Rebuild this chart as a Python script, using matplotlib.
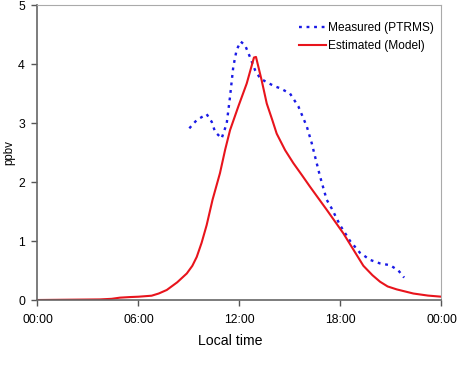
import matplotlib
matplotlib.use("Agg")
import matplotlib.pyplot as plt

plt.rcParams['font.family'] = ['Liberation Sans', 'DejaVu Sans']

# Estimated (Model)
est_h = [0, 3.71, 4.4, 4.9, 5.5, 6.0, 6.78, 7.2, 7.68, 8.3, 8.87, 9.2, 9.46, 9.75, 10.05,
         10.4, 10.84, 11.15, 11.44, 11.93, 12.43, 12.86, 12.98, 13.32, 13.62, 13.95,
         14.21, 14.71, 15.2, 15.7, 16.19, 17.18, 18.17, 18.97, 19.36, 19.9, 20.35,
         20.8, 21.34, 22.33, 23.2, 24.0]
est_v = [0, 0.01, 0.02, 0.04, 0.05, 0.056, 0.073, 0.11, 0.17, 0.3, 0.45, 0.58, 0.73, 0.97, 1.27,
         1.7, 2.15, 2.55, 2.88, 3.28, 3.67, 4.11, 4.12, 3.72, 3.33, 3.05,
         2.82, 2.54, 2.32, 2.12, 1.92, 1.53, 1.13, 0.76, 0.58, 0.42, 0.31,
         0.23, 0.18, 0.11, 0.075, 0.056]

# Measured (PTRMS)
meas_h = [9.02, 9.46, 10.05, 10.35, 10.55, 10.94, 11.24, 11.44, 11.63, 11.83, 12.07,
          12.33, 12.62, 12.92, 13.22, 13.62, 14.11, 14.41, 15.0, 15.5, 16.0, 16.29,
          16.49, 16.79, 17.18, 17.48, 17.97, 18.57, 19.16, 19.76, 20.35, 20.95,
          21.44, 21.78]
meas_v = [2.91, 3.05, 3.15, 3.02, 2.85, 2.74, 2.99, 3.45, 3.95, 4.24, 4.38,
          4.32, 4.12, 3.9, 3.76, 3.69, 3.62, 3.59, 3.5, 3.28, 2.94, 2.66,
          2.43, 2.09, 1.7, 1.55, 1.27, 1.0, 0.8, 0.68, 0.62, 0.59,
          0.5, 0.38]

xticks = [0, 6, 12, 18, 24]
xtick_labels = ["00:00", "06:00", "12:00", "18:00", "00:00"]
yticks = [0, 1, 2, 3, 4, 5]

fig = plt.figure(figsize=(4.74, 3.66), dpi=100)
ax = fig.add_axes([0.0791, 0.1803, 0.8523, 0.806])

ax.plot(meas_h, meas_v, color='#1a1ae6', linestyle=(0, (1.2, 2.0)), linewidth=1.7,
        label='Measured (PTRMS)')
ax.plot(est_h, est_v, color='#e8141c', linewidth=1.5, label='Estimated (Model)')

ax.set_xlim(0, 24)
ax.set_ylim(0, 5)
ax.set_xticks(xticks)
ax.set_xticklabels(xtick_labels)
ax.set_yticks(yticks)
ax.tick_params(axis='both', labelsize=8.8, color='#555555', length=4, width=1)
ax.tick_params(axis='x', pad=6)
ax.tick_params(axis='y', pad=5)

for s in ['top', 'right']:
    ax.spines[s].set_color('#aaaaaa')
for s in ['left', 'bottom']:
    ax.spines[s].set_color('#666666')
    ax.spines[s].set_linewidth(1.2)

ax.set_xlabel('Local time', fontsize=10.2)
ax.xaxis.set_label_coords(0.476, -0.115)
ax.set_ylabel('ppbv', fontsize=8.3, va='center')
ax.yaxis.set_label_coords(-0.0705, 0.5)

leg = ax.legend(loc='upper right', frameon=False, fontsize=8.6,
                handlelength=2.26, handletextpad=0.2, labelspacing=0.45,
                borderaxespad=0.0, borderpad=0.0, bbox_to_anchor=(0.9814, 0.941))

fig.savefig('out.png', dpi=100)
